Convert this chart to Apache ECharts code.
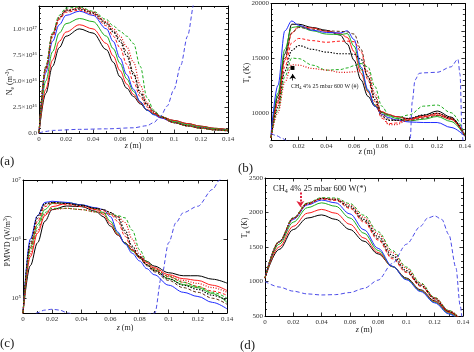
<!DOCTYPE html>
<html>
<head>
<meta charset="utf-8">
<script src="https://cdn.jsdelivr.net/npm/echarts@6/dist/echarts.min.js"></script>
<style>
html, body { margin: 0; padding: 0; background: #fff; }
#main { width: 474px; height: 352px; }
</style>
</head>
<body>
<div id="main"></div>
<script>
// z positions (m) shared by panels a, b, c
var zGrid = [0, 0.005, 0.01, 0.015, 0.02, 0.03, 0.04, 0.05, 0.055, 0.06, 0.065, 0.07, 0.075, 0.08, 0.085, 0.09, 0.1, 0.11, 0.12, 0.13, 0.14];
// panel d uses a coarser grid
var zGridD = [0, 0.01, 0.02, 0.03, 0.04, 0.05, 0.06, 0.07, 0.08, 0.09, 0.1, 0.11, 0.12, 0.13, 0.14];

// (a) electron density, in units of 1e16 m^-3
var neBlack     = [0, 3.8, 6.4, 8.2, 9.3, 10.0, 9.6, 8.0, 6.8, 5.4, 4.3, 3.5, 2.8, 2.2, 1.85, 1.57, 1.2, 0.9, 0.65, 0.45, 0.32];
var neRed       = [0, 4.2, 7.0, 8.8, 9.7, 10.4, 10.0, 8.6, 7.4, 6.0, 4.7, 3.7, 2.9, 2.25, 1.85, 1.57, 1.2, 0.9, 0.65, 0.45, 0.32];
var neGreen     = [0, 5.0, 7.8, 9.6, 10.5, 11.0, 10.7, 9.3, 8.1, 6.7, 5.2, 4.0, 3.0, 2.2, 1.8, 1.5, 1.1, 0.8, 0.58, 0.4, 0.28];
var neBlue      = [0, 5.8, 8.8, 10.4, 11.3, 11.7, 11.3, 10.0, 8.8, 7.2, 5.6, 4.2, 3.0, 2.2, 1.75, 1.45, 1.0, 0.7, 0.5, 0.32, 0.22];
var neMaroonDash= [0, 6.2, 9.4, 11.0, 11.7, 12.0, 11.6, 10.6, 9.8, 9.0, 7.8, 5.8, 4.0, 2.8, 2.1, 1.6, 1.0, 0.7, 0.48, 0.32, 0.22];
var neRedDash   = [0, 6.0, 9.2, 10.9, 11.6, 11.8, 11.4, 10.3, 9.3, 8.2, 6.6, 4.9, 3.5, 2.5, 1.9, 1.5, 1.0, 0.7, 0.48, 0.32, 0.22];
var neBlackDot  = [0, 6.3, 9.5, 11.1, 11.8, 11.9, 11.5, 10.5, 9.7, 8.8, 7.4, 5.6, 3.8, 2.7, 2.0, 1.55, 1.0, 0.68, 0.46, 0.3, 0.2];
var neGreenDash = [0, 6.4, 9.6, 11.3, 12.0, 12.1, 11.7, 10.9, 10.3, 9.8, 9.3, 8.6, 6.4, 3.4, 2.2, 1.6, 1.0, 0.68, 0.45, 0.3, 0.2];
var neRedDot    = [0, 6.3, 9.5, 11.1, 11.8, 12.0, 11.6, 10.7, 10.0, 9.3, 8.3, 6.8, 4.6, 2.9, 2.0, 1.55, 1.0, 0.68, 0.46, 0.3, 0.2];
var neBlueDashZ = [0, 0.005, 0.01, 0.03, 0.05, 0.07, 0.08, 0.085, 0.09, 0.095, 0.1, 0.105, 0.11, 0.115, 0.12];
var neBlueDash  = [0, 0.15, 0.25, 0.35, 0.4, 0.5, 0.7, 1.0, 1.6, 2.6, 4.2, 6.5, 9.3, 12.5, 16];

// (b) electron temperature (K)
var teBlack     = [7700, 11500, 15400, 18100, 18100, 17800, 17550, 17100, 16300, 14800, 13000, 11500, 10600, 10050, 9800, 9650, 9450, 9750, 10150, 9600, 7900];
var teRed       = [7700, 11000, 14800, 17300, 17900, 17750, 17450, 17250, 16900, 15600, 13600, 11900, 10700, 10100, 9850, 9650, 9400, 9600, 9950, 9500, 7900];
var teGreen     = [7700, 11800, 15800, 17800, 17900, 17500, 17200, 17150, 17250, 16100, 14000, 12000, 10700, 10000, 9700, 9500, 9250, 9400, 9650, 9200, 7850];
var teBlue      = [8000, 12500, 17500, 18400, 18000, 17550, 17350, 17300, 17500, 16700, 14200, 12100, 10600, 9850, 9550, 9350, 9150, 9100, 9100, 8650, 7850];
var teMaroonDash= [7700, 11200, 15000, 17300, 17800, 17650, 17500, 17450, 17400, 17200, 15800, 13300, 11500, 10000, 9400, 9300, 9300, 9500, 9750, 9400, 7900];
var teRedDash   = [7700, 10800, 14200, 16400, 16800, 16600, 16450, 16550, 16550, 16500, 15600, 13000, 11000, 9500, 9000, 9050, 9450, 9700, 9800, 9400, 7900];
var teBlackDot  = [7700, 10500, 13800, 15700, 16150, 15800, 15550, 15400, 15400, 15350, 14900, 13300, 11200, 9700, 9300, 9300, 9500, 9800, 9950, 9500, 7900];
var teGreenDash = [7700, 10200, 13300, 15000, 14950, 14350, 13900, 13950, 14100, 14300, 14500, 14200, 12400, 10600, 9800, 9500, 9800, 10600, 10700, 10000, 8000];
var teRedDot    = [7700, 10000, 12800, 14400, 14350, 14050, 13900, 13700, 13700, 13750, 13900, 13800, 11800, 9800, 8900, 8900, 9350, 9650, 9800, 9400, 7900];
var teBlueDashZ = [0, 0.004, 0.008, 0.012, 0.05, 0.0995, 0.1005, 0.102, 0.104, 0.107, 0.11, 0.12, 0.13, 0.135, 0.1365, 0.138, 0.14];
var teBlueDash  = [8100, 7900, 7650, 7400, 5000, 5000, 7500, 11000, 13000, 13600, 13650, 13700, 14200, 14900, 13500, 8000, 5000];

// (c) power density (W/m^3)
var pwBlack     = [5.6e4, 3.55e5, 8.7e5, 2.0e6, 3.16e6, 3.63e6, 3.55e6, 2.95e6, 2.4e6, 1.66e6, 1.17e6, 8.7e5, 6.6e5, 5.1e5, 4.2e5, 3.5e5, 2.7e5, 2.4e5, 2.4e5, 2.1e5, 1.8e5];
var pwRed       = [5.6e4, 5.0e5, 1.26e6, 2.5e6, 3.55e6, 4.0e6, 3.8e6, 3.16e6, 2.63e6, 1.82e6, 1.2e6, 8.5e5, 6.5e5, 5.0e5, 4.0e5, 3.3e5, 2.5e5, 2.14e5, 2.0e5, 1.66e5, 1.35e5];
var pwGreen     = [5.6e4, 7.1e5, 1.78e6, 3.16e6, 4.0e6, 4.17e6, 3.8e6, 3.31e6, 2.82e6, 2.0e6, 1.26e6, 8.5e5, 6.3e5, 4.8e5, 3.7e5, 3.0e5, 2.14e5, 1.7e5, 1.51e5, 1.2e5, 8.5e4];
var pwBlue      = [5.6e4, 1.0e6, 2.5e6, 4.17e6, 4.37e6, 4.17e6, 3.8e6, 3.39e6, 3.16e6, 2.4e6, 1.32e6, 8.3e5, 5.75e5, 4.27e5, 3.16e5, 2.5e5, 1.66e5, 1.26e5, 1.07e5, 8.5e4, 6.6e4];
var pwMaroonDash= [5.6e4, 7.9e5, 2.24e6, 3.8e6, 4.17e6, 4.0e6, 3.72e6, 3.31e6, 3.16e6, 2.82e6, 2.24e6, 1.26e6, 7.1e5, 4.8e5, 3.55e5, 2.8e5, 2.0e5, 1.51e5, 1.26e5, 1.0e5, 7.9e4];
var pwRedDash   = [5.6e4, 7.1e5, 2.0e6, 3.55e6, 4.0e6, 3.8e6, 3.55e6, 3.16e6, 3.02e6, 2.63e6, 2.0e6, 1.12e6, 6.6e5, 4.8e5, 3.7e5, 3.0e5, 2.3e5, 1.86e5, 1.58e5, 1.32e5, 1.12e5];
var pwBlackDot  = [5.6e4, 8.9e5, 2.5e6, 4.0e6, 4.17e6, 4.0e6, 3.72e6, 3.31e6, 3.16e6, 2.82e6, 2.4e6, 1.41e6, 7.6e5, 5.0e5, 3.7e5, 2.95e5, 2.14e5, 1.66e5, 1.41e5, 1.12e5, 9.1e4];
var pwGreenDash = [5.6e4, 6.3e5, 1.58e6, 2.82e6, 3.31e6, 3.31e6, 3.16e6, 2.88e6, 2.75e6, 2.63e6, 2.5e6, 2.29e6, 1.41e6, 6.6e5, 4.2e5, 3.16e5, 2.34e5, 1.86e5, 1.58e5, 1.26e5, 1.0e5];
var pwRedDot    = [5.6e4, 5.6e5, 1.41e6, 2.63e6, 3.16e6, 3.31e6, 3.16e6, 2.88e6, 2.75e6, 2.63e6, 2.4e6, 1.91e6, 1.0e6, 5.6e5, 4.0e5, 3.16e5, 2.4e5, 2.0e5, 1.78e5, 1.51e5, 1.26e5];
var pwBlueDashZ = [0, 0.009, 0.015, 0.02, 0.025, 0.031, 0.05, 0.0905, 0.095, 0.1, 0.105, 0.11, 0.12, 0.13, 0.135, 0.14];
var pwBlueDash  = [3.2e4, 5.6e4, 6.3e4, 6.5e4, 6.3e4, 5.6e4, 2.5e4, 5.6e4, 2.3e5, 8.7e5, 1.9e6, 2.8e6, 3.6e6, 6.9e6, 1.0e7, 1.6e7];

// (d) gas temperature (K)
var tgBlack     = [1050, 1464, 1753, 1920, 1965, 1900, 1753, 1584, 1400, 1220, 1050, 880, 720, 560, 410];
var tgRed       = [1050, 1500, 1800, 1990, 2045, 1990, 1830, 1630, 1420, 1215, 1040, 870, 710, 550, 400];
var tgGreen     = [1050, 1540, 1860, 2070, 2140, 2090, 1920, 1700, 1450, 1215, 1035, 865, 700, 540, 390];
var tgBlue      = [1050, 1570, 1900, 2110, 2180, 2140, 1980, 1750, 1480, 1220, 1025, 855, 690, 530, 380];
var tgMaroonDash= [1050, 1575, 1915, 2125, 2200, 2180, 2070, 1880, 1620, 1350, 1140, 940, 750, 570, 410];
var tgRedDash   = [1050, 1570, 1910, 2120, 2195, 2175, 2060, 1860, 1600, 1330, 1130, 930, 745, 565, 405];
var tgBlackDot  = [1050, 1580, 1920, 2130, 2205, 2190, 2090, 1900, 1650, 1380, 1160, 950, 755, 570, 410];
var tgGreenDash = [1050, 1580, 1920, 2140, 2215, 2210, 2130, 1960, 1720, 1450, 1210, 980, 770, 580, 415];
var tgRedDot    = [1050, 1575, 1915, 2135, 2205, 2195, 2110, 1930, 1690, 1420, 1190, 965, 765, 575, 412];
var tgBlueDashZ = [0, 0.01, 0.02, 0.03, 0.04, 0.05, 0.06, 0.07, 0.08, 0.09, 0.1, 0.11, 0.115, 0.12, 0.125, 0.13, 0.135, 0.138, 0.14];
var tgBlueDash  = [1000, 920, 860, 820, 805, 810, 840, 900, 1020, 1260, 1540, 1800, 1920, 1950, 1900, 1680, 1200, 650, 300];

var xTicks = [0, 0.02, 0.04, 0.06, 0.08, 0.1, 0.12, 0.14];

var SERIF = '"Liberation Serif", "DejaVu Serif", serif';

// line look for the 9 regular curves, same order in every panel
var looks = [
    { color: '#000000', type: 'solid',  width: 1 },
    { color: '#ff1a1a', type: 'solid',  width: 1 },
    { color: '#1fae1f', type: 'solid',  width: 1 },
    { color: '#1f2cff', type: 'solid',  width: 1 },
    { color: '#5a2a10', type: [3, 2],   width: 1 },
    { color: '#ff1a1a', type: [3, 2],   width: 1 },
    { color: '#000000', type: [1.5, 1.5], width: 1.1 },
    { color: '#1fae1f', type: [3, 2],   width: 1 },
    { color: '#e01010', type: [1, 1.6], width: 1.2 }
];

function pairs(zs, vs) {
    var out = [];
    for (var i = 0; i < vs.length; i++) out.push([zs[i], vs[i]]);
    return out;
}

function panelSeries(gi, zs, list, blueZ, blueV) {
    var s = [];
    list.forEach(function(vals, k) {
        s.push({
            type: 'line', xAxisIndex: gi * 2, yAxisIndex: gi * 2,
            data: pairs(zs, vals), showSymbol: false, smooth: 0.35, smoothMonotone: 'x',
            lineStyle: { color: looks[k].color, type: looks[k].type, width: looks[k].width },
            silent: true, z: 3
        });
    });
    s.push({
        type: 'line', xAxisIndex: gi * 2, yAxisIndex: gi * 2,
        data: pairs(blueZ, blueV), showSymbol: false, smooth: 0.3, smoothMonotone: 'x',
        lineStyle: { color: '#4b4be8', type: [4, 2.5], width: 1 },
        silent: true, z: 4
    });
    return s;
}

var tickStyle = { color: '#000', width: 0.8 };

function xPair(gi) {
    var base = {
        type: 'value', gridIndex: gi, min: 0, max: 0.14, interval: 0.02,
        axisLine: { show: true, onZero: false, lineStyle: { color: '#000', width: 1 } },
        axisTick: { show: true, inside: true, length: 3.5, lineStyle: tickStyle },
        minorTick: { show: true, splitNumber: 2, length: 2, lineStyle: tickStyle },
        splitLine: { show: false }
    };
    var bottom = Object.assign({}, base, {
        position: 'bottom',
        axisLabel: { fontSize: 7, color: '#333', fontFamily: SERIF, margin: 3,
            formatter: function(v) { return xTicks.indexOf(Math.round(v * 100) / 100) >= 0 ? String(Math.round(v * 100) / 100) : ''; } }
    });
    var top = Object.assign({}, base, { position: 'top', axisLabel: { show: false } });
    return [bottom, top];
}

function yPair(gi, extra, label) {
    var base = Object.assign({
        type: 'value', gridIndex: gi,
        axisLine: { show: true, onZero: false, lineStyle: { color: '#000', width: 1 } },
        axisTick: { show: true, inside: true, length: 3.5, lineStyle: tickStyle },
        minorTick: { show: true, splitNumber: 5, length: 2, lineStyle: tickStyle },
        splitLine: { show: false }
    }, extra);
    var left = Object.assign({}, base, {
        position: 'left',
        axisLabel: Object.assign({ fontSize: 7, color: '#333', fontFamily: SERIF, margin: 2 }, label)
    });
    var right = Object.assign({}, base, { position: 'right', axisLabel: { show: false } });
    return [left, right];
}

function isStep(v, step) {
    return Math.abs(v / step - Math.round(v / step)) < 1e-6;
}

var yA = yPair(0, { min: 0, max: 12.2, interval: 2.5 }, {
    formatter: function(v) {
        if (!isStep(v, 2.5)) return '';
        if (v === 0) return '0.0';
        if (v >= 10) return (v / 10).toFixed(1) + '×10¹⁷';
        return v.toFixed(1) + '×10¹⁶';
    }
});
var yB = yPair(1, { min: 7500, max: 20000, interval: 2500 }, {
    formatter: function(v) { return isStep(v, 5000) ? String(v) : ''; }
});
var yC = yPair(2, { type: 'log', logBase: 10, min: Math.pow(10, 4.75), max: 1e7,
    minorTick: { show: false } }, {
    showMinLabel: false,
    formatter: function(v) {
        var e = Math.log(v) / Math.LN10;
        if (Math.abs(e - Math.round(e)) > 1e-3) return '';
        var sup = ['⁰','¹','²','³','⁴','⁵','⁶','⁷','⁸','⁹'];
        return '10' + sup[Math.round(e)];
    }
});
var yD = yPair(3, { min: 500, max: 2500, interval: 500 }, {
    formatter: function(v) { return String(v); }
});

var xAxes = [].concat(xPair(0), xPair(1), xPair(2), xPair(3));
var yAxes = [].concat(yA, yB, yC, yD);

var series = [].concat(
    panelSeries(0, zGrid, [neBlack, neRed, neGreen, neBlue, neMaroonDash, neRedDash, neBlackDot, neGreenDash, neRedDot], neBlueDashZ, neBlueDash),
    panelSeries(1, zGrid, [teBlack, teRed, teGreen, teBlue, teMaroonDash, teRedDash, teBlackDot, teGreenDash, teRedDot], teBlueDashZ, teBlueDash),
    panelSeries(2, zGrid, [pwBlack, pwRed, pwGreen, pwBlue, pwMaroonDash, pwRedDash, pwBlackDot, pwGreenDash, pwRedDot], pwBlueDashZ, pwBlueDash),
    panelSeries(3, zGridD, [tgBlack, tgRed, tgGreen, tgBlue, tgMaroonDash, tgRedDash, tgBlackDot, tgGreenDash, tgRedDot], tgBlueDashZ, tgBlueDash)
);

// annotation arrows (b) and (d)
series.push({
    type: 'line', xAxisIndex: 2, yAxisIndex: 2, data: [], silent: true,
    markLine: {
        silent: true, symbol: ['none', 'arrow'], symbolSize: 5, label: { show: false },
        lineStyle: { color: '#000', type: 'solid', width: 0.8 },
        data: [[{ coord: [0.0157, 12950] }, { coord: [0.0157, 13550] }]]
    },
    markPoint: {
        silent: true, symbol: 'rect', symbolSize: 4, label: { show: false },
        itemStyle: { color: '#000' },
        data: [{ coord: [0.0155, 14100] }]
    }
});
series.push({
    type: 'line', xAxisIndex: 6, yAxisIndex: 6, data: [], silent: true,
    markLine: {
        silent: true, symbol: ['none', 'arrow'], symbolSize: 6, label: { show: false },
        lineStyle: { color: '#e0203c', type: [2, 1.5], width: 2 },
        data: [[{ coord: [0.025, 2290] }, { coord: [0.025, 2080] }]]
    }
});

var nameRich = {
    m: { fontSize: 8, fontFamily: SERIF, color: '#222', lineHeight: 11 },
    i: { fontSize: 8, fontFamily: SERIF, fontStyle: 'italic', color: '#222', lineHeight: 11 },
    s: { fontSize: 5.5, fontFamily: SERIF, color: '#222', verticalAlign: 'bottom', lineHeight: 6 },
    p: { fontSize: 5.5, fontFamily: SERIF, color: '#222', verticalAlign: 'top', lineHeight: 6 }
};

function txt(x, y, text, opts) {
    opts = opts || {};
    return {
        type: 'text', x: x, y: y, rotation: opts.rot || 0, silent: true,
        style: {
            text: text, rich: opts.rich || nameRich,
            fontSize: opts.size || 8, fontFamily: SERIF, fill: opts.color || '#222',
            align: opts.align || 'center', verticalAlign: 'middle'
        }
    };
}

var redRich = {
    m: { fontSize: 8.5, fontFamily: SERIF, color: '#e0203c', lineHeight: 11 },
    s: { fontSize: 6, fontFamily: SERIF, color: '#e0203c', verticalAlign: 'bottom', lineHeight: 6 }
};
var blkRich = {
    m: { fontSize: 6, fontFamily: SERIF, color: '#111', lineHeight: 8 },
    s: { fontSize: 4.5, fontFamily: SERIF, color: '#111', verticalAlign: 'bottom', lineHeight: 5 }
};

var graphics = [
    txt(10, 82, '{m|N}{s|e}{m| (m}{p|-3}{m|)}', { rot: Math.PI / 2 }),
    txt(247, 73, '{m|T}{s|e}{m| (K)}', { rot: Math.PI / 2 }),
    txt(8, 241, '{m|PMWD (W/m}{p|3}{m|)}', { rot: Math.PI / 2 }),
    txt(245, 228, '{m|T}{s|g}{m| (K)}', { rot: Math.PI / 2 }),
    txt(133, 146, '{i|z}{m| (m)}'),
    txt(367, 152, '{i|z}{m| (m)}'),
    txt(125, 328, '{i|z}{m| (m)}'),
    txt(364, 330, '{i|z}{m| (m)}'),
    txt(0, 162, '(a)', { size: 13, align: 'left', rich: {} }),
    txt(238, 169, '(b)', { size: 13, align: 'left', rich: {} }),
    txt(0, 344, '(c)', { size: 13, align: 'left', rich: {} }),
    txt(240, 346, '(d)', { size: 13, align: 'left', rich: {} }),
    txt(291, 86, '{m|CH}{s|4}{m| 4% 25 mbar 600 W (#)}', { align: 'left', rich: blkRich }),
    txt(273, 189, '{m|CH}{s|4}{m| 4% 25 mbar 600 W(*)}', { align: 'left', rich: redRich })
];

var chart = echarts.init(document.getElementById('main'), null, { renderer: 'canvas' });
chart.setOption({
    animation: false,
    backgroundColor: '#ffffff',
    grid: [
        { left: 39, top: 6, width: 189, height: 127 },
        { left: 271, top: 3, width: 196, height: 137 },
        { left: 23, top: 180, width: 204, height: 133 },
        { left: 265, top: 178, width: 198, height: 138 }
    ],
    xAxis: xAxes,
    yAxis: yAxes,
    series: series,
    graphic: graphics
});
</script>
</body>
</html>
